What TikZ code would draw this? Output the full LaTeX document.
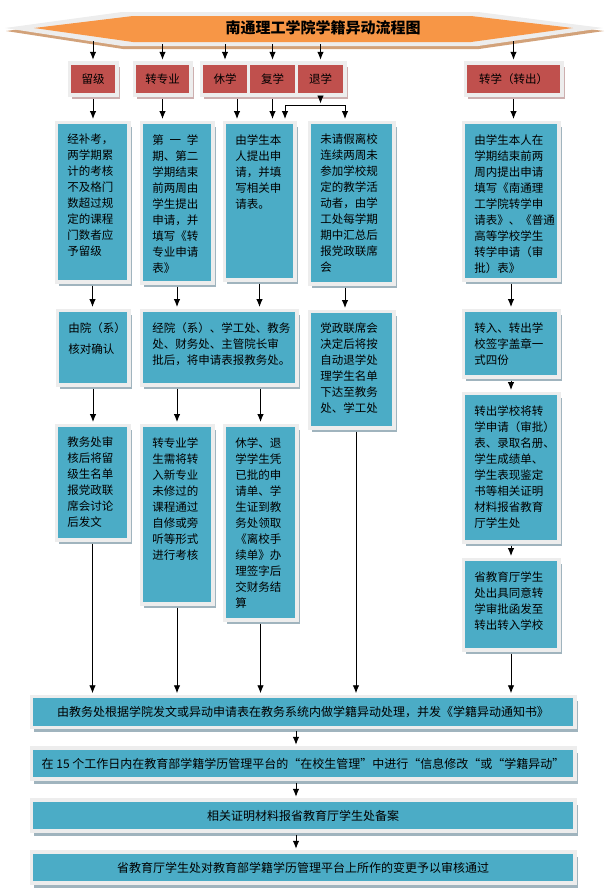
\documentclass[tikz,border=0pt]{standalone}
\usepackage{fontspec}
\setmainfont{Noto Sans CJK SC}
\usetikzlibrary{arrows.meta,shadows,calc}

\definecolor{boxblue}{HTML}{4BACC6}
\definecolor{typered}{HTML}{C0504D}
\definecolor{bannerorange}{HTML}{F79646}
\definecolor{framegray}{HTML}{EDEDED}
\definecolor{shadowblue}{HTML}{A0B4BE}
\definecolor{shadowred}{HTML}{CDAFAF}
\definecolor{shadowtan}{HTML}{D2A27A}

\newcommand{\flowtext}[3]{\parbox[t][\dimexpr#2-24pt\relax][t]{\dimexpr#1-22pt\relax}{#3}}

\begin{document}
\begin{tikzpicture}[x=1pt, y=-1pt,
  flowbox/.style={draw=framegray, line width=3.5pt, fill=boxblue,
    drop shadow={shadow xshift=3pt, shadow yshift=-4.5pt, fill=shadowblue, opacity=1},
    inner xsep=11pt, inner ysep=12pt, font=\fontsize{11.5}{16}\selectfont},
  typebox/.style={draw=framegray, line width=3.5pt, fill=typered,
    drop shadow={shadow xshift=3pt, shadow yshift=-3.5pt, fill=shadowred, opacity=1},
    minimum height=32pt, inner sep=0pt, font=\fontsize{11.5}{14}\selectfont},
  barbox/.style={draw=framegray, line width=3.5pt, fill=boxblue,
    drop shadow={shadow xshift=3pt, shadow yshift=-4.5pt, fill=shadowblue, opacity=1},
    minimum width=543.5pt, minimum height=31pt, inner sep=0pt, font=\fontsize{12}{14}\selectfont},
  arr/.style={-{Latex[length=8pt,width=6.5pt]}, line width=0.9pt, shorten >=1.5pt, shorten <=2pt}]

\useasboundingbox (0,0) rectangle (605,895);

% Title banner
\fill[shadowtan] (6,31) -- (123,15) -- (479,15) -- (604,31) -- (479,49) -- (123,49) -- cycle;
\fill[framegray] (5,28) -- (122,12) -- (478,12) -- (603,28) -- (478,46) -- (122,46) -- cycle;
\fill[bannerorange] (34,28) -- (133,16) -- (471,16) -- (573,28) -- (471,42) -- (133,42) -- cycle;
\node[font=\fontsize{15}{18}\selectfont\bfseries] (title) at (323,28) {南通理工学院学籍异动流程图};
\coordinate (bannerside) at (0,39);
\coordinate (bannermid) at (0,42);

% Kinds of change
\node[typebox, minimum width=47.5pt] (liuji) at (93,79) {留级};
\node[typebox, minimum width=56.5pt] (zhuan) at (162.5,79) {转专业};
\node[typebox, minimum width=47.5pt] (xiuxue) at (225,79) {休学};
\node[typebox, minimum width=48.5pt] (fuxue) at (272.5,79) {复学};
\node[typebox, minimum width=48.5pt] (tuixue) at (320.5,79) {退学};
\node[typebox, minimum width=96.5pt] (chu) at (513.5,79) {转学（转出）};

\draw[arr] (liuji.north |- bannerside) -- (liuji.north);
\draw[arr] (zhuan.north |- bannermid) -- (zhuan.north);
\draw[arr] (xiuxue.north |- bannermid) -- (xiuxue.north);
\draw[arr] (fuxue.north |- bannermid) -- (fuxue.north);
\draw[arr] (tuixue.north |- bannermid) -- (tuixue.north);
\draw[arr] (chu.north |- bannerside) -- (chu.north);

% First row of steps
\node[flowbox] (liujia) at (92.5,202) {\flowtext{72.5pt}{159.5pt}{经补考，\\两学期累\\计的考核\\不及格门\\数超过规\\定的课程\\门数者应\\予留级}};
\node[flowbox] (zhuana) at (177,202.5) {\flowtext{71.5pt}{160.5pt}{第\enspace 一\enspace 学\\期、第二\\学期结束\\前两周由\\学生提出\\申请，并\\填写《转\\专业申请\\表》}};
\node[flowbox] (xiufua) at (259.5,201) {\flowtext{70.5pt}{157.5pt}{由学生本\\人提出申\\请，并填\\写相关申\\请表。}};
\node[flowbox] (tuia) at (351.5,203) {\flowtext{84.5pt}{161.5pt}{未请假离校\\连续两周未\\参加学校规\\定的教学活\\动者，由学\\工处每学期\\期中汇总后\\报党政联席\\会}};
\node[flowbox] (chua) at (511,201) {\flowtext{95.5pt}{157.5pt}{由学生本人在\\学期结束前两\\周内提出申请\\填写《南通理\\工学院转学申\\请表》、《普通\\高等学校学生\\转学申请（审\\批）表》}};

\draw[arr] (liuji.south) -- (liuji.south |- liujia.north);
\draw[arr] (zhuan.south) -- (zhuan.south |- zhuana.north);
\draw[arr] ([xshift=12pt]xiuxue.south) -- ([xshift=12pt]xiuxue.south |- xiufua.north);
\draw[arr] (fuxue.south) -- (fuxue.south |- xiufua.north);
\coordinate (fork) at (320.5,105);
\draw[arr, shorten <=0pt] (tuixue.south) -- (fork);
\draw[arr, shorten <=0pt] (fork) -| ([xshift=25.5pt]xiufua.north);
\draw[arr, shorten <=0pt] (fork) -| ([xshift=-6.5pt]tuia.north);
\draw[arr] (chu.south) -- (chu.south |- chua.north);

% Second row
\node[flowbox] (liujib) at (93,347.5) {\flowtext{71.5pt}{74.5pt}{由院（系）\\[5pt]核对确认}};
\node[flowbox] (zhuanb) at (219,347.5) {\flowtext{155.5pt}{74.5pt}{经院（系）、学工处、教务\\处、财务处、主管院长审\\批后，将申请表报教务处。}};
\node[flowbox] (tuib) at (351.5,369.5) {\flowtext{84.5pt}{116.5pt}{党政联席会\\决定后将按\\自动退学处\\理学生名单\\下达至教务\\处、学工处}};
\node[flowbox] (chub) at (511,343.5) {\flowtext{95.5pt}{66.5pt}{转入、转出学\\校签字盖章一\\式四份}};

\draw[arr] (liujia.south) -- (liujia.south |- liujib.north);
\draw[arr] (zhuana.south) -- (zhuana.south |- zhuanb.north);
\draw[arr] (xiufua.south) -- (xiufua.south |- zhuanb.north);
\draw[arr] ([xshift=-6.5pt]tuia.south) -- ([xshift=-6.5pt]tuia.south |- tuib.north);
\draw[arr] (chua.south) -- (chua.south |- chub.north);

% Third row
\node[flowbox] (liujic) at (92.5,482.5) {\flowtext{72.5pt}{114.5pt}{教务处审\\核后将留\\级生名单\\报党政联\\席会讨论\\后发文}};
\node[flowbox] (zhuanc) at (177,514.5) {\flowtext{71.5pt}{178.5pt}{转专业学\\生需将转\\入新专业\\未修过的\\课程通过\\自修或旁\\听等形式\\进行考核}};
\node[flowbox] (xiufub) at (260.5,522.5) {\flowtext{72.5pt}{194.5pt}{休学、退\\学学生凭\\已批的申\\请单、学\\生证到教\\务处领取\\《离校手\\续单》办\\理签字后\\交财务结\\算}};
\node[flowbox] (chuc) at (511,467.5) {\flowtext{95.5pt}{148.5pt}{转出学校将转\\学申请（审批）\\表、录取名册、\\学生成绩单、\\学生表现鉴定\\书等相关证明\\材料报省教育\\厅学生处}};
\node[flowbox] (chud) at (511,604.5) {\flowtext{95.5pt}{90.5pt}{省教育厅学生\\处出具同意转\\学审批函发至\\转出转入学校}};

\draw[arr] (liujib.south) -- (liujib.south |- liujic.north);
\draw[arr] (zhuanb.south -| zhuanc.north) -- (zhuanc.north);
\draw[arr] (zhuanb.south -| xiufub.north) -- (xiufub.north);
\draw[arr] (chub.south) -- (chub.south |- chuc.north);
\draw[arr] (chuc.south) -- (chuc.south |- chud.north);

% Common steps
\node[barbox] (bara) at (303,712) {由教务处根据学院发文或异动申请表在教务系统内做学籍异动处理，并发《学籍异动通知书》};
\node[barbox] (barb) at (303,763.5) {在 15 个工作日内在教育部学籍学历管理平台的“在校生管理”中进行“信息修改“或“学籍异动”};
\node[barbox] (barc) at (303,815.5) {相关证明材料报省教育厅学生处备案};
\node[barbox] (bard) at (303,867.5) {省教育厅学生处对教育部学籍学历管理平台上所作的变更予以审核通过};

\draw[arr] (liujic.south) -- (liujic.south |- bara.north);
\draw[arr] (zhuanc.south) -- (zhuanc.south |- bara.north);
\draw[arr] (xiufub.south) -- (xiufub.south |- bara.north);
\draw[arr] ([xshift=4.5pt]tuib.south) -- ([xshift=4.5pt]tuib.south |- bara.north);
\draw[arr] (chud.south) -- (chud.south |- bara.north);

\draw[arr] ([xshift=-7pt]bara.south) -- ([xshift=-7pt]barb.north);
\draw[arr] ([xshift=-7pt]barb.south) -- ([xshift=-7pt]barc.north);
\draw[arr] ([xshift=-7pt]barc.south) -- ([xshift=-7pt]bard.north);

\end{tikzpicture}
\end{document}
